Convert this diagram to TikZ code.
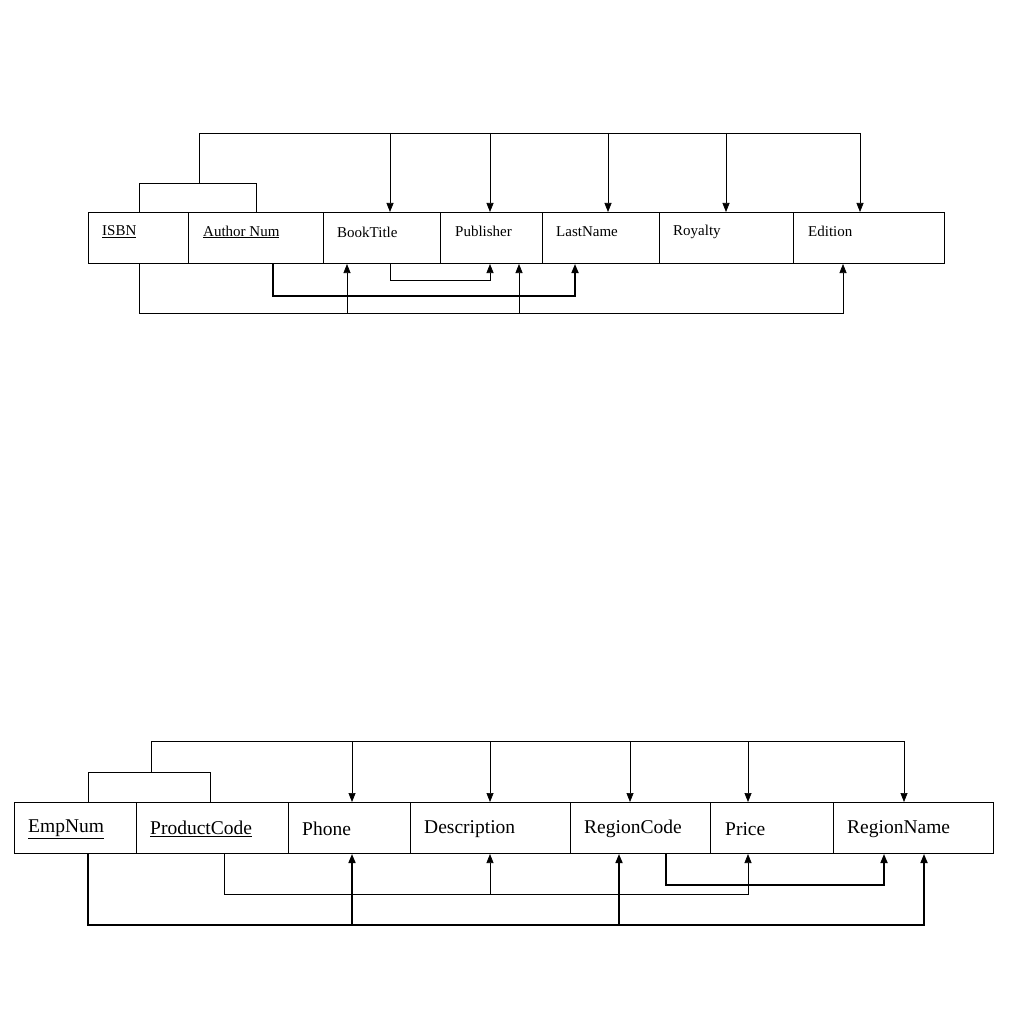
\documentclass[tikz,border=0pt]{standalone}
\usepackage{fontspec}
\setmainfont{Liberation Serif}
\usetikzlibrary{arrows.meta}
\begin{document}
\begin{tikzpicture}[x=1pt,y=-1pt,
  cell/.style={draw,line width=1pt,anchor=north west,inner sep=0pt},
  lab/.style={anchor=west,inner sep=0pt},
  conn/.style={line width=0.7pt},
  thick conn/.style={line width=1.6pt},
  arr/.style={-{Triangle[length=9pt,width=7pt]}}]
\useasboundingbox[fill=white] (0,0) rectangle (1013,1024);
% top table
\foreach \n/\a/\b in {c1/88/188,c2/188/323,c3/323/440,c4/440/542,c5/542/659,c6/659/793,c7/793/944}
  \node[cell,minimum width={(\b-\a)*1pt},minimum height=51pt] (\n) at (\a,212) {};
\begin{scope}[font=\fontsize{15}{17}\selectfont]
\node[lab] (t1) at (102,232) {\underline{ISBN}};
\node[lab] (t2) at (203,232) {\underline{Author Num}};
\node[lab] (t3) at (337,232) {BookTitle};
\node[lab] (t4) at (455,231) {Publisher};
\node[lab] (t5) at (556,232) {LastName};
\node[lab] (t6) at (673,232) {Royalty};
\node[lab] (t7) at (808,231) {Edition};
\end{scope}
\coordinate (k1) at (199,183);
\draw[conn] (139,0 |- c1.north) -- (139,183) -- (256,183) -- (256,0 |- c2.north);
\draw[conn] (k1) -- (199,133) -- (860,133);
\foreach \x/\n in {390/c3,490/c4,608/c5,726/c6,860/c7}
  \draw[conn,arr] (\x,133) -- (\x,0 |- \n.north);
\draw[conn,arr] (390,0 |- c3.south) -- (390,280) -- (490,280) -- (490,0 |- c4.south);
\draw[thick conn,arr] (273,0 |- c2.south) -- (273,296) -- (575,296) -- (575,0 |- c5.south);
\draw[conn,arr] (139,0 |- c1.south) -- (139,313) -- (843,313) -- (843,0 |- c7.south);
\draw[conn,arr] (347,313) -- (347,0 |- c3.south);
\draw[conn,arr] (519,313) -- (519,0 |- c4.south);
% bottom table
\foreach \n/\a/\b in {d1/14/136,d2/136/288,d3/288/410,d4/410/570,d5/570/710,d6/710/833,d7/833/993}
  \node[cell,minimum width={(\b-\a)*1pt},minimum height=51pt] (\n) at (\a,802) {};
\begin{scope}[font=\fontsize{19.5}{22}\selectfont]
\node[lab] (u1) at (28,829) {\underline{EmpNum}};
\node[lab] (u2) at (150,829) {\underline{ProductCode}};
\node[lab] (u3) at (302,829) {Phone};
\node[lab] (u4) at (424,829) {Description};
\node[lab] (u5) at (584,829) {RegionCode};
\node[lab] (u6) at (725,829) {Price};
\node[lab] (u7) at (847,829) {RegionName};
\end{scope}
\draw[conn] (88,0 |- d1.north) -- (88,772) -- (210,772) -- (210,0 |- d2.north);
\draw[conn] (151,772) -- (151,741) -- (904,741);
\foreach \x/\n in {352/d3,490/d4,630/d5,748/d6,904/d7}
  \draw[conn,arr] (\x,741) -- (\x,0 |- \n.north);
\draw[conn,arr] (224,0 |- d2.south) -- (224,894) -- (748,894) -- (748,0 |- d6.south);
\draw[conn,arr] (490,894) -- (490,0 |- d4.south);
\draw[thick conn,arr] (666,0 |- d5.south) -- (666,885) -- (884,885) -- (884,0 |- d7.south);
\draw[thick conn,arr] (88,0 |- d1.south) -- (88,925) -- (924,925) -- (924,0 |- d7.south);
\draw[thick conn,arr] (352,925) -- (352,0 |- d3.south);
\draw[thick conn,arr] (619,925) -- (619,0 |- d5.south);
\end{tikzpicture}
\end{document}
